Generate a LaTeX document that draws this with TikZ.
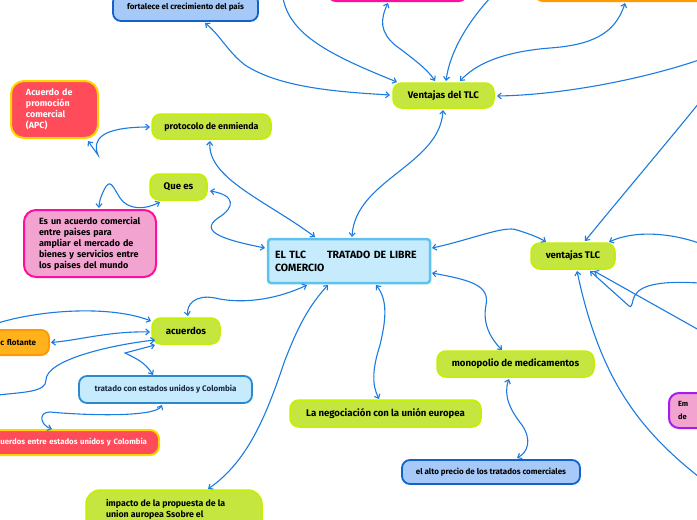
\documentclass[tikz,border=0pt]{standalone}
\usepackage{fontspec}
\setmainfont{Fira Sans}
\usetikzlibrary{arrows.meta,calc}
\definecolor{link}{HTML}{1B7BE0}
\definecolor{gfill}{HTML}{C5E63F}
\definecolor{gline}{HTML}{C2F000}
\definecolor{mfill}{HTML}{C6EBFC}
\definecolor{mline}{HTML}{5EC1EE}
\definecolor{bfill}{HTML}{A6C9F7}
\definecolor{bline}{HTML}{1262CC}
\definecolor{pfill}{HTML}{F2A3CF}
\definecolor{pline}{HTML}{FF0F9B}
\definecolor{rfill}{HTML}{FF4B5A}
\definecolor{rline}{HTML}{FFD400}
\definecolor{ofill}{HTML}{FFB21C}
\definecolor{oline}{HTML}{FF9B00}
\definecolor{tline}{HTML}{2C89D0}
\definecolor{vline}{HTML}{A61CF0}
\definecolor{navy}{HTML}{1A2A4A}
\begin{document}
\begin{tikzpicture}[x=1pt,y=-1pt,
  every node/.style={inner sep=0pt, outer sep=0pt},
  gbox/.style={rectangle, rounded corners=9pt, fill=gfill, draw=gline, line width=1.5pt, font=\bfseries\fontsize{9.6}{11}\selectfont},
  bbox/.style={rectangle, rounded corners=8pt, fill=bfill, draw=bline, line width=1.8pt, font=\bfseries\fontsize{8}{9}\selectfont},
  cbox/.style={rectangle, rounded corners=8pt, fill=mfill, draw=tline, line width=1.8pt, text=navy, font=\bfseries\fontsize{8}{9}\selectfont},
  rbox/.style={rectangle, rounded corners=9pt, fill=rfill, draw=rline, line width=2pt, text=white, font=\bfseries\fontsize{7.8}{9}\selectfont},
  pbox/.style={rectangle, rounded corners=12pt, fill=pfill, draw=pline, line width=2pt, font=\bfseries\fontsize{9}{11}\selectfont},
  obox/.style={rectangle, rounded corners=8pt, fill=ofill, draw=oline, line width=2pt, font=\bfseries\fontsize{8}{10}\selectfont},
  lk/.style={draw=link, line width=1.1pt, {Straight Barb[length=3.5pt,width=6pt]}-{Straight Barb[length=3.5pt,width=6pt]}},
  lke/.style={draw=link, line width=1.1pt, -{Straight Barb[length=3.5pt,width=6pt]}}
]
\useasboundingbox (0,0) rectangle (697,520);
\fill[white] (0,0) rectangle (697,520);

% nodes
\node[bbox, minimum width=145pt, minimum height=27pt] (fort) at (185.5,7.5) {fortalece el crecimiento del país};
\node[pbox, rounded corners=8pt, minimum width=139pt, minimum height=30pt] (pinktop) at (397.5,-14) {};
\node[obox, minimum width=190pt, minimum height=30pt] (orangetop) at (630,-14) {};
\node[gbox, minimum width=101pt, minimum height=25pt] (vent1) at (443.5,95.5) {Ventajas del TLC};
\node[rbox, rounded corners=13pt, minimum width=87pt, minimum height=57pt, text width=57pt, align=left, font=\bfseries\fontsize{8.9}{11}\selectfont] (apc) at (54.5,109.5) {Acuerdo de\\promoción\\comercial\\(APC)};
\node[gbox, minimum width=119pt, minimum height=25pt, font=\bfseries\fontsize{8.9}{10}\selectfont] (proto) at (211.5,126.5) {protocolo de enmienda};
\node[gbox, minimum width=57pt, minimum height=26pt] (quees) at (178.5,187) {Que es};
\node[pbox, minimum width=132pt, minimum height=67pt, text width=102pt, align=left] (esun) at (90,243.5) {Es un acuerdo comercial\\entre paises para\\ampliar el mercado de\\bienes y servicios entre\\los paises del mundo};
\node[rectangle, rounded corners=3pt, fill=mfill, draw=mline, line width=2.5pt, minimum width=162pt, minimum height=44pt, text width=148pt, align=left, font=\bfseries\fontsize{10.5}{13}\selectfont] (main) at (349,261) {EL TLC\hspace{21pt}TRATADO DE LIBRE\\COMERCIO};
\node[gbox, minimum width=84pt, minimum height=26pt] (vent2) at (573,256) {ventajas TLC};
\node[gbox, minimum width=68pt, minimum height=26pt] (acu) at (186,331) {acuerdos};
\node[obox, anchor=east, inner xsep=13pt, text width=50pt, align=right, minimum height=25pt] (flot) at (49,342.5) {c flotante};
\node[cbox, minimum width=173pt, minimum height=27pt] (trat) at (165.5,389.5) {tratado con estados unidos y Colombia};
\node[rbox, anchor=east, inner xsep=12pt, text width=160pt, align=right, minimum height=25pt] (red2) at (159,442.5) {uerdos entre estados unidos y Colombia};
\node[gbox, minimum width=191pt, minimum height=27pt] (nego) at (385.5,413.5) {La negociación con la unión europea};
\node[gbox, minimum width=157pt, minimum height=26pt] (mono) at (515.5,364) {monopolio de medicamentos};
\node[bbox, minimum width=178pt, minimum height=24pt] (alto) at (491,472) {el alto precio de los tratados comerciales};
\node[gbox, rounded corners=14pt, anchor=north west, minimum width=176pt, minimum height=50pt] (imp) at (86,490) {};
\node[anchor=north west, align=left, font=\bfseries\fontsize{8.8}{11.5}\selectfont] (impt) at ($(imp.north west)+(20,9)$) {impacto de la propuesta de la\\union auropea Ssobre el};
\node[pbox, rounded corners=10pt, draw=vline, anchor=west, inner xsep=9pt, text width=60pt, align=left, minimum height=35pt, font=\bfseries\fontsize{7.5}{13}\selectfont] (pinkR) at (669,410.5) {Em\\de};

% free ends
\coordinate (tl1) at (283,-2);
\coordinate (tp2) at (490,-2);
\coordinate (r1) at (699,60);
\coordinate (r2) at (699,103);
\coordinate (r3) at (699,243);
\coordinate (r4) at (699,283);
\coordinate (r5) at (699,330);
\coordinate (r6) at (699,477);
\coordinate (l1) at (-2,323);
\coordinate (l2) at (-2,395);

% connectors from main
\draw[lk] ($(quees)+(31.5,4)$) .. controls (235,195) and (236,207) .. (218,218) .. controls (198,232) and (225,240) .. ($(main)+(-84,-13)$);
\draw[lk] ($(proto)+(-1.5,14.5)$) .. controls (207,178) and (265,200) .. ($(main)+(-34,-24)$);
\draw[lk] ($(vent1)+(-0.5,14.5)$) .. controls (440,165) and (355,180) .. ($(main)+(3,-24)$);
\draw[lk] ($(main)+(83,-13)$) .. controls (470,240) and (505,225) .. (517,230) .. controls (530,234) and (540,238) .. ($(vent2)+(-27,-14)$);
\draw[lk] ($(main)+(83,12)$) .. controls (470,280) and (490,285) .. (486,305) .. controls (482,325) and (492,340) .. ($(mono)+(-13.5,-14)$);
\draw[lk] ($(main)+(27,24)$) .. controls (388,300) and (386,320) .. (380,345) .. controls (372,370) and (372,385) .. ($(nego)+(-6.5,-14.5)$);
\draw[lk] ($(main)+(-42,24)$) .. controls (280,298) and (245,305) .. (215,298) .. controls (195,294) and (186,305) .. ($(acu)+(2,-15)$);
\draw[lk] ($(main)+(-21,24)$) .. controls (305,310) and (295,335) .. (285,360) .. controls (268,410) and (250,460) .. ($(imp.north west)+(122,-1)$);

% Ventajas del TLC
\draw[lk] ($(vent1)+(-53.5,-0.5)$) .. controls (340,92) and (280,88) .. (245,65) .. controls (228,52) and (220,35) .. ($(fort)+(19.5,15.5)$);
\draw[lke] (tl1) .. controls (290,35) and (330,55) .. ($(vent1)+(-46.5,-13.5)$);
\draw[lk] ($(pinktop)+(-9.5,17)$) .. controls (380,20) and (380,32) .. (395,45) .. controls (415,60) and (428,70) .. ($(vent1)+(-8.5,-14.5)$);
\draw[lke] (tp2) .. controls (470,20) and (450,50) .. ($(vent1)+(2.5,-14.5)$);
\draw[lk] ($(orangetop)+(-5,17)$) .. controls (615,35) and (590,45) .. (550,48) .. controls (500,52) and (475,65) .. ($(vent1)+(16.5,-14.5)$);
\draw[lke] (r1) .. controls (640,80) and (560,95) .. ($(vent1)+(53.5,0.5)$);

% ventajas TLC
\draw[lke] (r2) .. controls (665,145) and (625,192) .. ($(vent2)+(12,-15)$);
\draw[lke] (r3) .. controls (670,233) and (635,230) .. ($(vent2)+(36,-14)$);
\draw[lke] (r4) .. controls (650,280) and (636,288) .. (633,300) .. controls (632,305) and (631,308) .. (629,306) -- ($(vent2)+(17,15)$);
\draw[lke] (r5) -- ($(vent2)+(21,15)$);
\draw[lke] (r6) .. controls (640,430) and (600,380) .. ($(vent2)+(4,15)$);

% acuerdos
\draw[lke] (l1) .. controls (40,310) and (110,305) .. ($(acu)+(-35,-10)$);
\draw[lk] ($(flot.east)+(2,0)$) .. controls (80,340) and (110,331) .. ($(acu)+(-36,1)$);
\draw[lke] (l2) .. controls (25,392) and (46,392) .. (46,380) .. controls (46,360) and (110,345) .. ($(acu)+(-31,9)$);
\draw[lk] ($(acu)+(-31,14)$) -- (125,353) .. controls (135,358) and (145,362) .. ($(trat)+(-12.5,-14.5)$);
\draw[lk] ($(trat)+(-3.5,15.5)$) .. controls (155,418) and (80,415) .. (50,412) .. controls (38,412) and (40,425) .. ($(red2.east)+(-107,-13.5)$);

% Que es / protocolo
\draw[lk] ($(quees)+(-18.5,15)$) .. controls (145,210) and (128,210) .. (120,198) .. controls (112,185) and (110,178) .. (104,190) .. controls (101,196) and (99,202) .. ($(esun)+(9,-35.5)$);
\draw[lk] ($(apc)+(33.5,31.5)$) -- (98,155) .. controls (92,140) and (100,127) .. ($(proto)+(-61.5,0.5)$);

% monopolio
\draw[lk] ($(mono)+(-6.5,15)$) .. controls (503,395) and (510,410) .. (522,425) .. controls (532,440) and (528,452) .. ($(alto)+(26,-14)$);
\end{tikzpicture}
\end{document}
